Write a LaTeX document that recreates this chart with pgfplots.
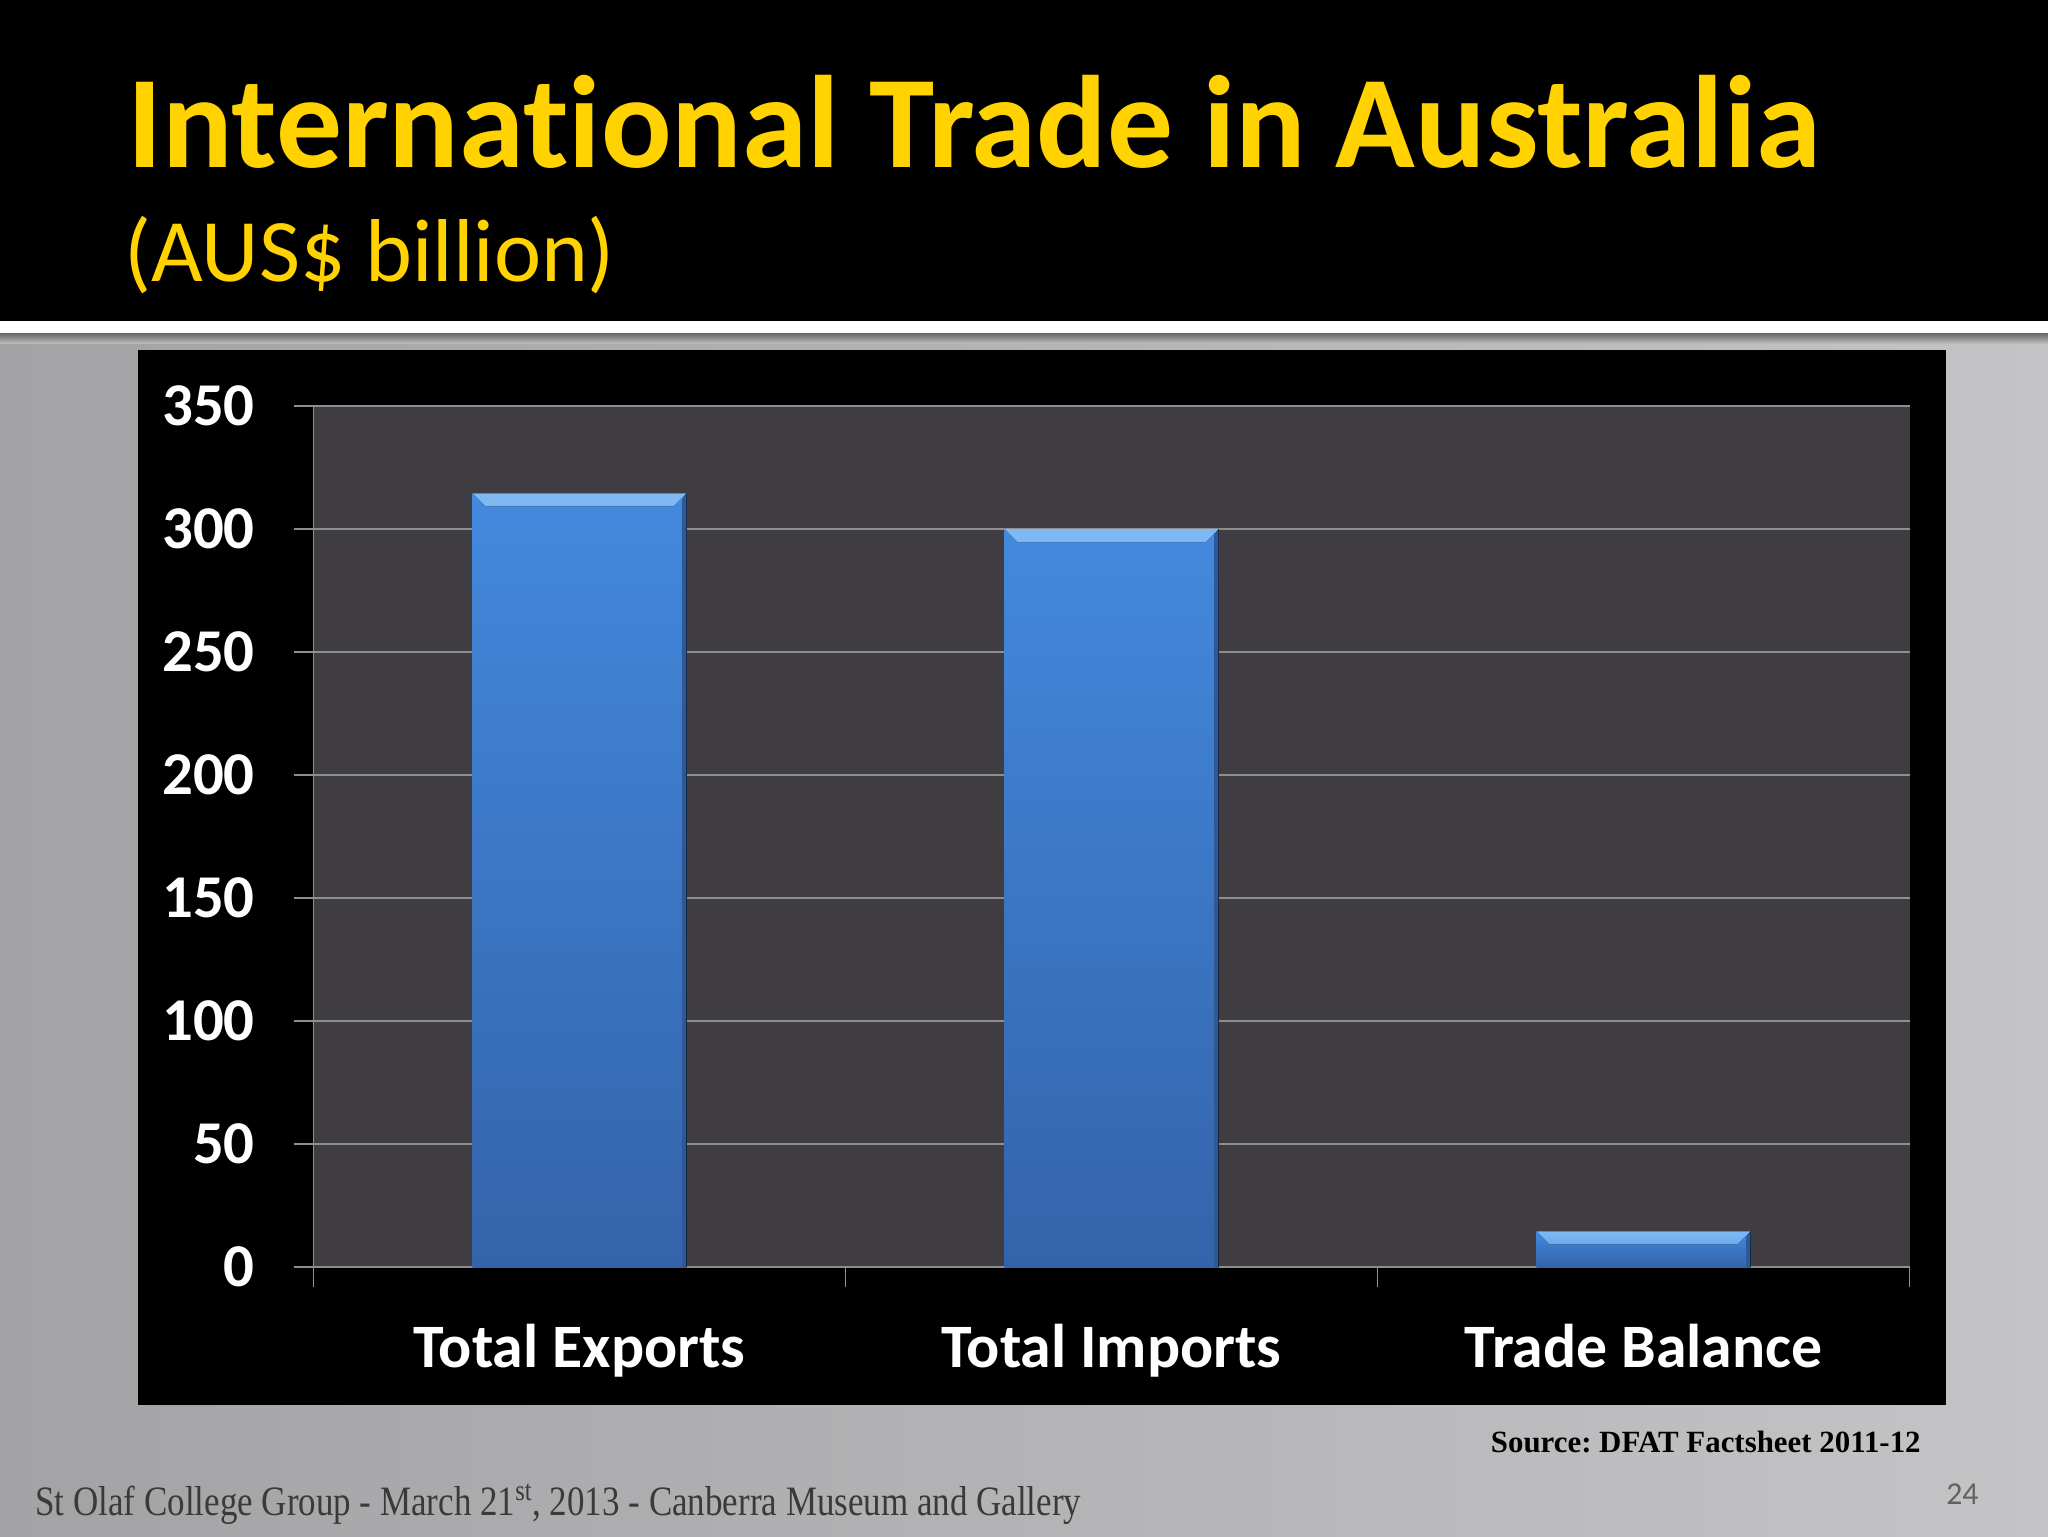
\documentclass[border=0pt]{standalone}
\usepackage{fontspec}
\setmainfont{Carlito}
\newfontfamily\titlefont[Ligatures=NoCommon]{Carlito}
\newfontfamily\serifx{Liberation Serif}
\usepackage{graphicx}
\usepackage{pgfplots}
\pgfplotsset{compat=1.18}
\frenchspacing
\newif\ifinbevel
\definecolor{plotbg}{HTML}{3F3D41}
\definecolor{gridc}{HTML}{8E8E8E}
\definecolor{bartop}{HTML}{4389DD}
\definecolor{barbot}{HTML}{3463AA}
\definecolor{bevlight}{HTML}{7EB9F3}
\definecolor{bevdark}{HTML}{4B90E1}
\definecolor{bevright}{HTML}{2E5896}
\definecolor{titley}{HTML}{FFD200}
\definecolor{bgl}{HTML}{A3A3A5}
\definecolor{bgm}{HTML}{B8B8BA}
\definecolor{bgr}{HTML}{C4C4C6}
\definecolor{foot}{HTML}{3A3A3A}
\pgfplotsset{barsty/.style={ybar, bar shift=0pt, top color=bartop, bottom color=barbot, draw=none,
  path picture={\ifinbevel\else\inbeveltrue
    \fill[top color=bevlight, bottom color=bevdark] (path picture bounding box.north west) -- (path picture bounding box.north east)
      -- ([xshift=-6.5bp,yshift=-6.5bp]path picture bounding box.north east)
      -- ([xshift=6.5bp,yshift=-6.5bp]path picture bounding box.north west) -- cycle;
    \fill[left color=bevright, right color=bevright] (path picture bounding box.north east) -- (path picture bounding box.south east)
      -- ([xshift=-2bp]path picture bounding box.south east)
      -- ([xshift=-2bp,yshift=-3bp]path picture bounding box.north east) -- cycle;
  \fi}}}
\begin{document}
\begin{tikzpicture}
\begin{scope}[x=0.5bp,y=-0.5bp]
\useasboundingbox (0,0) rectangle (2048,1536);
\fill[left color=bgl, middle color=bgm, right color=bgr] (0,0) rectangle (2048,1536);
\fill[black] (0,0) rectangle (2048,321);
\fill[white] (0,321) rectangle (2048,333);
\fill[top color=black!60, bottom color=bgm] (0,333) rectangle (2048,343);
\fill[black] (138,350) rectangle (1946,1405);
\node[anchor=base west, inner sep=0pt, text=titley, font=\titlefont\bfseries\fontsize{66}{66}\selectfont] at (127,167) {International Trade in Australia};
\node[anchor=base west, inner sep=0pt, text=titley, font=\fontsize{44.8}{44.8}\selectfont] at (124,281) {(AUS\$ billion)};
\node[anchor=base east, inner sep=0pt, text=black, font=\serifx\bfseries\fontsize{15.5}{15.5}\selectfont] at (1921,1452) {Source: DFAT Factsheet 2011-12};
\node[anchor=base west, inner sep=0pt, text=foot, font=\serifx\fontsize{21}{21}\selectfont] at (35,1515) {\scalebox{0.836}[1]{St Olaf College Group - March 21\textsuperscript{st}, 2013 - Canberra Museum and Gallery}};
\node[anchor=base east, inner sep=0pt, text=foot!80, font=\fontsize{16}{16}\selectfont] at (1979,1504) {24};
\end{scope}
\begin{axis}[
  at={(156.75bp,-633.5bp)}, anchor=south west,
  width=798bp, height=430.5bp, scale only axis,
  xmin=-0.5, xmax=2.5, ymin=0, ymax=350,
  ytick={0,50,...,350},
  xtick={-0.5,0.5,1.5,2.5}, xticklabels={},
  extra x ticks={0,1,2},
  extra x tick labels={Total Exports,Total Imports,Trade Balance},
  extra x tick style={major tick length=0pt, grid=none},
  axis background/.style={fill=plotbg},
  ymajorgrids, grid style={gridc, line width=0.75bp},
  axis x line*=bottom, axis y line*=left,
  axis line style={gridc, line width=0.75bp},
  tick style={gridc, line width=0.75bp},
  tick align=outside, major tick length=10bp,
  /pgf/number format/assume math mode=true,
  yticklabel style={text=white, font=\bfseries\fontsize{30.5}{30.5}\selectfont, anchor=east, inner sep=0pt, xshift=-19.25bp},
  xticklabel style={text=white, font=\bfseries\fontsize{31}{31}\selectfont, anchor=base, inner sep=0pt, yshift=-50bp},
  bar width=107bp,
]
\addplot[barsty] coordinates {(0,314.5)};
\addplot[barsty] coordinates {(1,300)};
\addplot[barsty] coordinates {(2,14.5)};
\end{axis}
\end{tikzpicture}
\end{document}
